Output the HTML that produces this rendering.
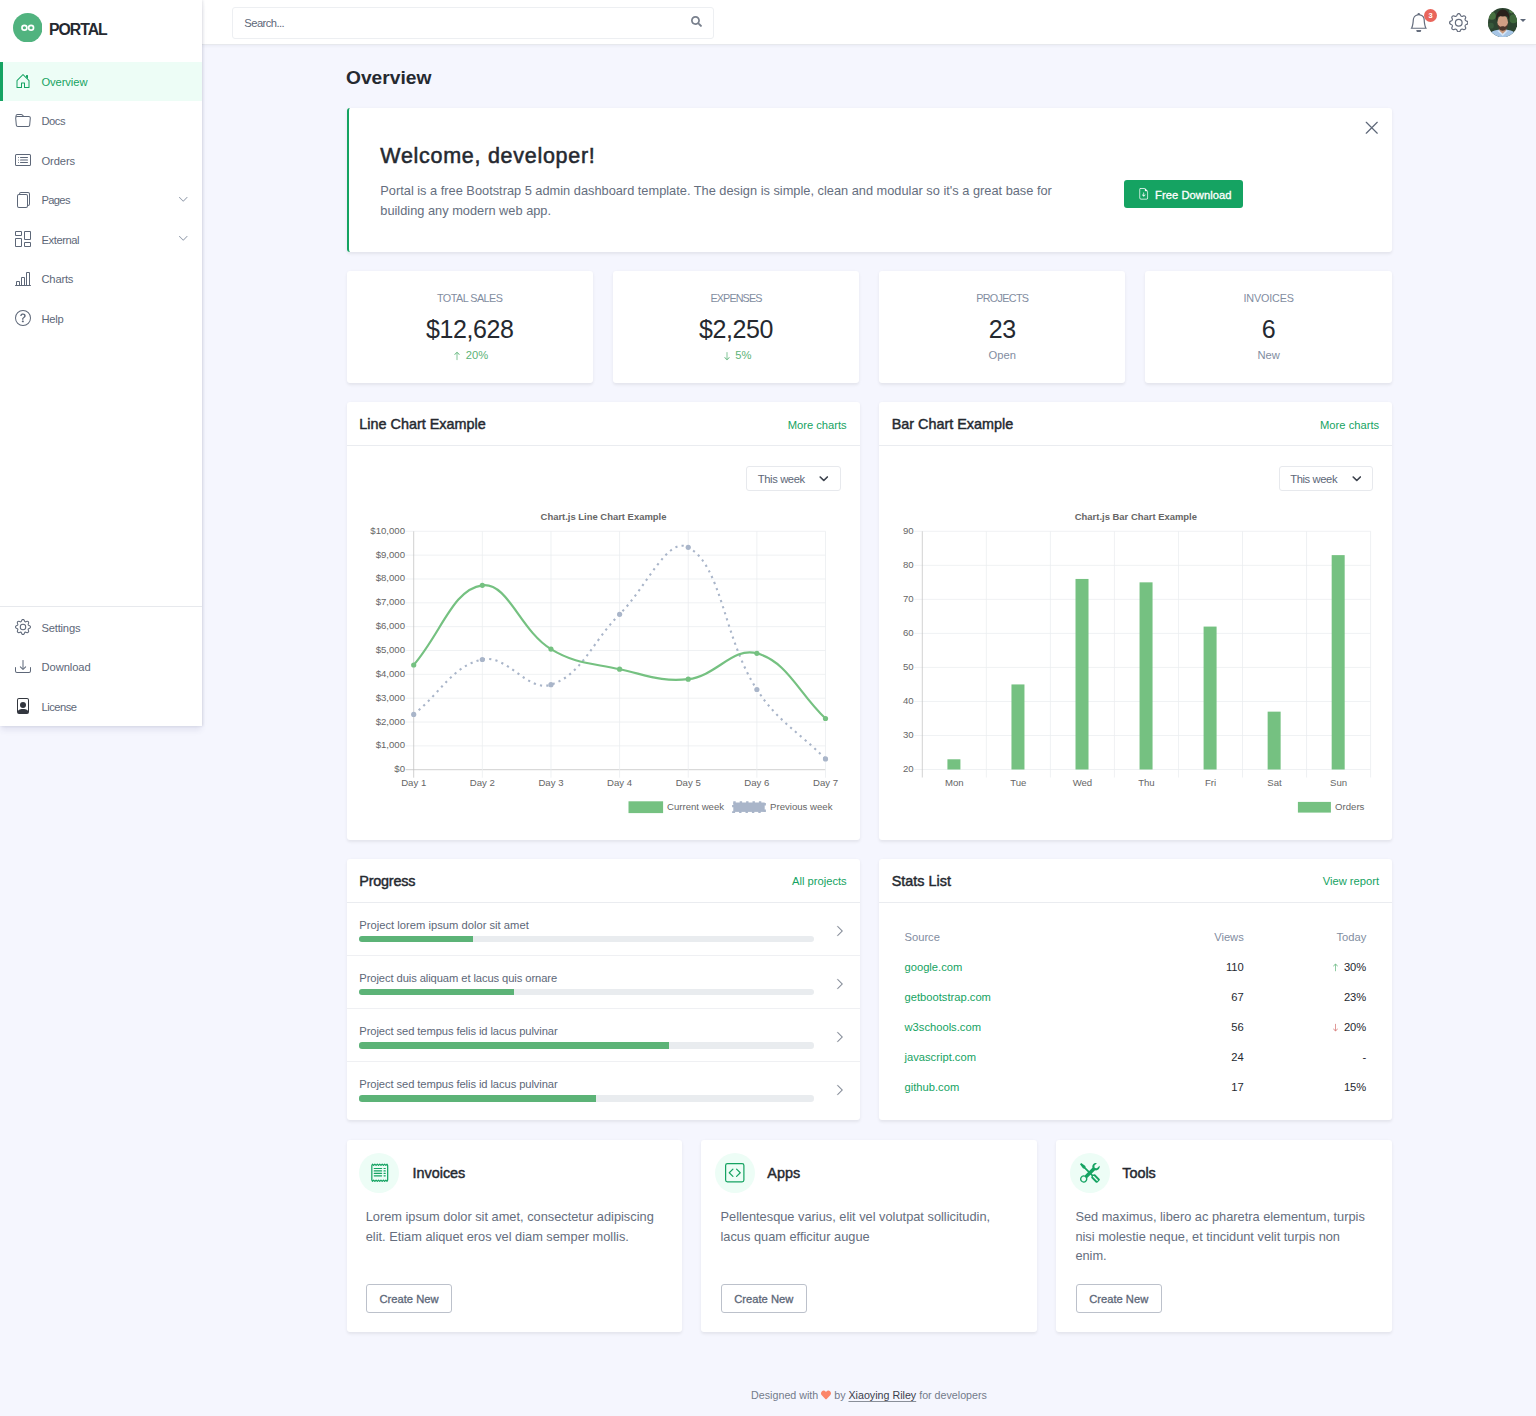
<!DOCTYPE html>
<html lang="en">
<head>
<meta charset="utf-8">
<title>Portal - Bootstrap 5 Admin Dashboard Template For Developers</title>
<meta name="viewport" content="width=device-width, initial-scale=1">
<style>
*{box-sizing:border-box;margin:0;padding:0}
html,body{width:1536px;height:1416px;overflow:hidden}
body{background:#f5f6fe;font-family:"Liberation Sans",sans-serif;color:#5d6778;font-size:11.200px;position:relative}
a{text-decoration:none;color:#15a362}
.bi{display:inline-block;vertical-align:middle;flex:none}
.sidebar{position:absolute;left:0;top:0;width:202px;height:726px;background:#fff;box-shadow:1px 0 2.500px rgba(40,50,80,.13),0 5px 6px -1px rgba(60,60,120,.10);z-index:3}
.logo{position:absolute;left:12.800px;top:12.800px;height:29.500px;display:flex;align-items:center}
.logo-ico{width:29.500px;height:29.500px}
.logo-text{margin-left:6.700px;font-size:15.800px;font-weight:bold;color:#252930;letter-spacing:-1px;position:relative;top:2.300px}
.nav-link{position:absolute;left:0;width:202px;height:39px;display:flex;align-items:center;color:#5d6778;border-left:3px solid transparent;padding-left:12.100px;font-size:11.200px}
.nav-link.active{background:#edfdf6;color:#15a362;border-left-color:#15a362}
.nav-ico{margin-right:10.400px}
.nav-text{position:relative;top:.5px}
.nav-chev{position:absolute;right:13.200px;top:13.800px;color:#828d9f}
.side-div{position:absolute;left:0;top:606px;width:202px;height:1px;background:#e7e9ed}
.topbar{position:absolute;left:202px;top:0;width:1334px;height:44.500px;background:#fff;border-bottom:1px solid #e7e9ed;box-shadow:0 1px 3px rgba(40,50,80,.06);z-index:2}
.search{position:absolute;left:29.500px;top:7px;width:482.800px;height:31.500px;border:1px solid #edeff2;border-radius:3px;background:#fff}
.search-ph{position:absolute;left:11.800px;top:9px;font-size:11.200px;letter-spacing:-.55px;color:#5d6778;line-height:13px}
.search-ico{position:absolute;right:11.300px;top:8.200px;width:11px;height:11px;color:#79808d}
.hd-bell{position:absolute;left:1207.200px;top:12.700px;color:#666e7e}
.hd-gear{position:absolute;left:1246.700px;top:12.700px;color:#666e7e}
.badge{position:absolute;left:1222px;top:9.200px;width:13px;height:13px;border-radius:50%;background:#e9655b;color:#fff;font-size:7.500px;font-weight:bold;line-height:13px;text-align:center}
.avatar{position:absolute;left:1285.700px;top:7.800px;width:29.400px;height:29.400px}
.caret{position:absolute;left:1318px;top:19.200px;border:3px solid transparent;border-top:3px solid #5d6778;border-bottom:0}
main{position:absolute;left:0;top:0;width:1536px;height:1416px}
.page-title{position:absolute;left:346px;top:66.700px;font-size:19.200px;line-height:22px;font-weight:bold;color:#252930}
.card{position:absolute;background:#fff;border-radius:3px;box-shadow:0 1.600px 3.200px rgba(0,0,0,.075)}
.welcome{left:346.500px;top:108px;width:1045.300px;height:143.500px;border-left:2.700px solid #15a362;border-radius:3px}
.w-title{position:absolute;left:31.800px;top:35.600px;font-size:21.500px;line-height:25px;font-weight:normal;-webkit-text-stroke:.52px #252930;letter-spacing:.72px;color:#252930}
.w-text{position:absolute;left:31.800px;top:73.100px;font-size:12.800px;line-height:19.700px;color:#656e7e;white-space:nowrap}
.btn-dl{position:absolute;left:775.600px;top:72.400px;width:119.400px;height:27.400px;background:#15a362;border-radius:3px;color:#fff;font-size:11.200px;-webkit-text-stroke:.3px #fff;letter-spacing:.05px;display:flex;align-items:center;padding-left:13.500px}
.dl-ico{margin-right:6px}
.close-x{position:absolute;left:1016px;top:13px;width:13.500px;height:13.500px;color:#5d6778}
.stat{top:271px;width:246.400px;height:111.500px;text-align:center}
.stat-t{position:absolute;left:0;width:100%;top:20.500px;font-size:10.800px;letter-spacing:-.47px;line-height:13px;font-weight:normal;color:#828d9f}
.stat-v{position:absolute;left:0;width:100%;top:43px;font-size:25px;letter-spacing:-.4px;line-height:30px;color:#252930}
.stat-m{position:absolute;left:0;width:100%;top:78px;font-size:11.200px;line-height:13px;color:#828d9f}
.stat-m.up{color:#5cb377}
.meta-ico{margin-right:2.500px;position:relative;top:-.3px}
.chartcard{top:402px;width:513px;height:437.500px}
.card-h{position:absolute;left:0;top:0;width:100%;height:43.500px;border-bottom:1px solid #eaecf0}
.card-title{position:absolute;left:12.800px;top:14.250px;font-size:14.400px;line-height:17px;font-weight:normal;-webkit-text-stroke:.45px #252930;color:#252930}
.card-link{position:absolute;right:12.800px;top:16.500px;font-size:11.200px;line-height:13px;color:#15a362}
.select{position:absolute;left:399.800px;top:64.200px;width:94.300px;height:24.700px;border:1px solid #e7e9ed;border-radius:3px;color:#5d6778}
.select span{position:absolute;left:10.500px;top:5.500px;font-size:11.200px;letter-spacing:-.38px;line-height:13px}
.sel-chev{position:absolute;left:72px;top:7.300px;color:#3f4550}
svg.chart{position:absolute;z-index:1}
.midcard{top:859px;width:513px;height:261px}
.prow{position:absolute;left:0;width:100%;height:53.300px;border-bottom:1px solid #eff0f3}
.prow:last-child{border-bottom:0}
.ptext{position:absolute;left:12.800px;top:16.100px;font-size:11.200px;line-height:13px;color:#5d6778}
.pbar{position:absolute;left:12.800px;top:33.100px;width:454.800px;height:6.500px;border-radius:3.200px;background:#e9ecef;overflow:hidden}
.pbar div{height:100%;background:#5cb377}
.prow-chev{position:absolute;left:487.700px;top:22px;color:#7b828f;stroke:currentColor;stroke-width:.4}
.trow{position:absolute;left:25.600px;width:461.800px;height:14px;font-size:11.200px;line-height:14px;color:#252930}
.trow.th{color:#828d9f}
.trow .c1{position:absolute;left:0}
.trow .c2{position:absolute;right:122.500px}
.trow .c3{position:absolute;right:0}
.t-ico{position:relative;top:-.5px}
.t-ico.up{color:#5cb377}.t-ico.dn{color:#d26d69}
.botcard{top:1140px;width:335.600px;height:191.500px}
.ic-holder{position:absolute;left:12.800px;top:12.800px;width:40px;height:40px;border-radius:50%;background:#edfdf6;color:#15a362;display:flex;align-items:center;justify-content:center}
.bot-title{position:absolute;left:66px;top:25px;font-size:14.400px;line-height:17px;font-weight:normal;-webkit-text-stroke:.45px #252930;color:#252930}
.bot-text{position:absolute;left:19.200px;top:67px;font-size:12.800px;line-height:19.500px;color:#656e7e;white-space:nowrap}
.btn-sec{position:absolute;left:19.500px;top:143.500px;width:86px;height:29px;border:1px solid #bcc1cb;border-radius:3px;color:#5d6778;font-size:11.200px;-webkit-text-stroke:.3px #5d6778;line-height:28.600px;text-align:center}
.foot{position:absolute;left:0;width:1738px;top:1388px;text-align:center;font-size:10.700px;line-height:14px;color:#737b8b}
.foot a{color:#3b404b;text-decoration:underline;text-decoration-thickness:.8px;text-decoration-color:#8a8f99;text-underline-offset:1.500px}
.heart{width:10px;height:10px;vertical-align:-1px}
.lic{color:#33373f}
.midcard .card-link{top:15.800px}
.midcard .card-title{top:14px}
.btn-dl span{position:relative;top:.5px}
</style>
</head>
<body>
<aside class="sidebar"><div class="logo"><svg class="logo-ico" viewBox="0 0 30 30"><circle cx="15" cy="15" r="15" fill="#51b37f"/><circle cx="11.600" cy="15" r="2.500" fill="none" stroke="#fff" stroke-width="1.700"/><circle cx="18.400" cy="15" r="2.500" fill="none" stroke="#fff" stroke-width="1.700"/></svg><span class="logo-text">PORTAL</span></div><a class="nav-link active" style="top:61.5px"><svg class="bi nav-ico" style="width:16px;height:16px;" viewBox="0 0 16 16" fill="currentColor"><path fill-rule="evenodd" d="M7.646 1.146a.5.5 0 0 1 .708 0l6 6a.5.5 0 0 1 .146.354v7a.5.5 0 0 1-.5.5H9.500a.5.5 0 0 1-.5-.5v-4H7v4a.5.5 0 0 1-.5.5H2a.5.5 0 0 1-.5-.5v-7a.5.5 0 0 1 .146-.354l6-6zM2.500 7.707V14H6v-4a.5.5 0 0 1 .5-.5h3a.5.5 0 0 1 .5.5v4h3.500V7.707L8 2.207l-5.500 5.500z"/><path fill-rule="evenodd" d="M13 2.500V6l-2-2V2.500a.5.5 0 0 1 .5-.5h1a.5.5 0 0 1 .5.5z"/></svg><span class="nav-text" style="letter-spacing:-0.09px">Overview</span></a><a class="nav-link" style="top:101px"><svg class="bi nav-ico" style="width:16px;height:16px;" viewBox="0 0 16 16" fill="currentColor"><path d="M9.828 4a3 3 0 0 1-2.120-.879l-.830-.828A1 1 0 0 0 6.173 2H2.500a1 1 0 0 0-1 .981L1.546 4h-1L.5 3a2 2 0 0 1 2-2h3.672a2 2 0 0 1 1.414.586l.828.828A2 2 0 0 0 9.828 3v1z"/><path fill-rule="evenodd" d="M13.810 4H2.190a1 1 0 0 0-.996 1.090l.637 7a1 1 0 0 0 .995.910h10.348a1 1 0 0 0 .995-.910l.637-7A1 1 0 0 0 13.810 4zM2.190 3A2 2 0 0 0 .198 5.181l.637 7A2 2 0 0 0 2.826 14h10.348a2 2 0 0 0 1.991-1.819l.637-7A2 2 0 0 0 13.810 3H2.190z"/></svg><span class="nav-text" style="letter-spacing:-0.47px">Docs</span></a><a class="nav-link" style="top:140.5px"><svg class="bi nav-ico" style="width:16px;height:16px;" viewBox="0 0 16 16" fill="currentColor"><path fill-rule="evenodd" d="M14.500 3h-13a.5.5 0 0 0-.5.5v9a.5.5 0 0 0 .5.5h13a.5.5 0 0 0 .5-.5v-9a.5.5 0 0 0-.5-.5zm-13-1A1.500 1.500 0 0 0 0 3.500v9A1.500 1.500 0 0 0 1.500 14h13a1.500 1.500 0 0 0 1.500-1.500v-9A1.500 1.500 0 0 0 14.500 2h-13z"/><path fill-rule="evenodd" d="M5 8a.5.5 0 0 1 .5-.5h7a.5.5 0 0 1 0 1h-7A.5.5 0 0 1 5 8zm0-2.500a.5.5 0 0 1 .5-.5h7a.5.5 0 0 1 0 1h-7a.5.5 0 0 1-.5-.5zm0 5a.5.5 0 0 1 .5-.5h7a.5.5 0 0 1 0 1h-7a.5.5 0 0 1-.5-.5z"/><circle cx="3.5" cy="5.5" r=".5"/><circle cx="3.5" cy="8" r=".5"/><circle cx="3.5" cy="10.5" r=".5"/></svg><span class="nav-text" style="letter-spacing:-0.12px">Orders</span></a><a class="nav-link" style="top:180px"><svg class="bi nav-ico" style="width:16px;height:16px;" viewBox="0 0 16 16" fill="currentColor"><path fill-rule="evenodd" d="M4 2h7a2 2 0 0 1 2 2v10a2 2 0 0 1-2 2H4a2 2 0 0 1-2-2V4a2 2 0 0 1 2-2zm0 1a1 1 0 0 0-1 1v10a1 1 0 0 0 1 1h7a1 1 0 0 0 1-1V4a1 1 0 0 0-1-1H4z"/><path d="M6 0h7a2 2 0 0 1 2 2v10a2 2 0 0 1-2 2v-1a1 1 0 0 0 1-1V2a1 1 0 0 0-1-1H6a1 1 0 0 0-1 1H4a2 2 0 0 1 2-2z"/></svg><span class="nav-text" style="letter-spacing:-0.68px">Pages</span><svg class="bi nav-chev" style="width:10.5px;height:10.5px;" viewBox="0 0 16 16" fill="currentColor"><path fill-rule="evenodd" d="M1.646 4.646a.5.5 0 0 1 .708 0L8 10.293l5.646-5.647a.5.5 0 0 1 .708.708l-6 6a.5.5 0 0 1-.708 0l-6-6a.5.5 0 0 1 0-.708z"/></svg></a><a class="nav-link" style="top:219.5px"><svg class="bi nav-ico" style="width:16px;height:16px;" viewBox="0 0 16 16" fill="currentColor"><path fill-rule="evenodd" d="M6 1H1v3h5V1zM1 0a1 1 0 0 0-1 1v3a1 1 0 0 0 1 1h5a1 1 0 0 0 1-1V1a1 1 0 0 0-1-1H1zm14 12h-5v3h5v-3zm-5-1a1 1 0 0 0-1 1v3a1 1 0 0 0 1 1h5a1 1 0 0 0 1-1v-3a1 1 0 0 0-1-1h-5zM6 8H1v7h5V8zM1 7a1 1 0 0 0-1 1v7a1 1 0 0 0 1 1h5a1 1 0 0 0 1-1V8a1 1 0 0 0-1-1H1zm14-6h-5v7h5V1zm-5-1a1 1 0 0 0-1 1v7a1 1 0 0 0 1 1h5a1 1 0 0 0 1-1V1a1 1 0 0 0-1-1h-5z"/></svg><span class="nav-text" style="letter-spacing:-0.42px">External</span><svg class="bi nav-chev" style="width:10.5px;height:10.5px;" viewBox="0 0 16 16" fill="currentColor"><path fill-rule="evenodd" d="M1.646 4.646a.5.5 0 0 1 .708 0L8 10.293l5.646-5.647a.5.5 0 0 1 .708.708l-6 6a.5.5 0 0 1-.708 0l-6-6a.5.5 0 0 1 0-.708z"/></svg></a><a class="nav-link" style="top:259px"><svg class="bi nav-ico" style="width:16px;height:16px;" viewBox="0 0 16 16" fill="currentColor"><path fill-rule="evenodd" d="M4 11H2v3h2v-3zm5-4H7v7h2V7zm5-5h-2v12h2V2zm-2-1a1 1 0 0 0-1 1v12a1 1 0 0 0 1 1h2a1 1 0 0 0 1-1V2a1 1 0 0 0-1-1h-2zM6 7a1 1 0 0 1 1-1h2a1 1 0 0 1 1 1v7a1 1 0 0 1-1 1H7a1 1 0 0 1-1-1V7zm-5 4a1 1 0 0 1 1-1h2a1 1 0 0 1 1 1v3a1 1 0 0 1-1 1H2a1 1 0 0 1-1-1v-3z"/><path fill-rule="evenodd" d="M0 14.500a.5.5 0 0 1 .5-.5h15a.5.5 0 0 1 0 1H.5a.5.5 0 0 1-.5-.5z"/></svg><span class="nav-text" style="letter-spacing:-0.2px">Charts</span></a><a class="nav-link" style="top:298.5px"><svg class="bi nav-ico" style="width:16px;height:16px;" viewBox="0 0 16 16" fill="currentColor"><path fill-rule="evenodd" d="M8 15A7 7 0 1 0 8 1a7 7 0 0 0 0 14zm0 1A8 8 0 1 0 8 0a8 8 0 0 0 0 16z"/><path d="M5.255 5.786a.237.237 0 0 0 .241.247h.825c.138 0 .248-.113.266-.250.090-.656.540-1.134 1.342-1.134.686 0 1.314.343 1.314 1.168 0 .635-.374.927-.965 1.371-.673.489-1.206 1.060-1.168 1.987l.003.217a.25.25 0 0 0 .25.246h.811a.25.25 0 0 0 .25-.250v-.105c0-.718.273-.927 1.010-1.486.609-.463 1.244-.977 1.244-2.056 0-1.511-1.276-2.241-2.673-2.241-1.267 0-2.655.590-2.750 2.286zm1.557 5.763c0 .533.425.927 1.010.927.609 0 1.028-.394 1.028-.927 0-.552-.420-.940-1.029-.940-.584 0-1.009.388-1.009.940z"/></svg><span class="nav-text" style="letter-spacing:-0.27px">Help</span></a><div class="side-div"></div><a class="nav-link" style="top:607.5px"><svg class="bi nav-ico" style="width:16px;height:16px;" viewBox="0 0 16 16" fill="currentColor"><path fill-rule="evenodd" d="M8.837 1.626c-.246-.835-1.428-.835-1.674 0l-.094.319A1.873 1.873 0 0 1 4.377 3.060l-.292-.160c-.764-.415-1.600.420-1.184 1.185l.159.292a1.873 1.873 0 0 1-1.115 2.692l-.319.094c-.835.246-.835 1.428 0 1.674l.319.094a1.873 1.873 0 0 1 1.115 2.693l-.160.291c-.415.764.420 1.600 1.185 1.184l.292-.159a1.873 1.873 0 0 1 2.692 1.116l.094.318c.246.835 1.428.835 1.674 0l.094-.319a1.873 1.873 0 0 1 2.693-1.115l.291.160c.764.415 1.600-.420 1.184-1.185l-.159-.291a1.873 1.873 0 0 1 1.116-2.693l.318-.094c.835-.246.835-1.428 0-1.674l-.319-.094a1.873 1.873 0 0 1-1.115-2.692l.160-.292c.415-.764-.420-1.600-1.185-1.184l-.291.159A1.873 1.873 0 0 1 8.930 1.945l-.094-.319zm-2.633-.283c.527-1.790 3.065-1.790 3.592 0l.094.319a.873.873 0 0 0 1.255.520l.292-.160c1.640-.892 3.434.901 2.540 2.541l-.159.292a.873.873 0 0 0 .520 1.255l.319.094c1.790.527 1.790 3.065 0 3.592l-.319.094a.873.873 0 0 0-.520 1.255l.160.292c.893 1.640-.902 3.434-2.541 2.540l-.292-.159a.873.873 0 0 0-1.255.520l-.094.319c-.527 1.790-3.065 1.790-3.592 0l-.094-.319a.873.873 0 0 0-1.255-.520l-.292.160c-1.640.893-3.433-.902-2.540-2.541l.159-.292a.873.873 0 0 0-.520-1.255l-.319-.094c-1.790-.527-1.790-3.065 0-3.592l.319-.094a.873.873 0 0 0 .520-1.255l-.160-.292c-.892-1.640.902-3.433 2.541-2.540l.292.159a.873.873 0 0 0 1.255-.520l.094-.319z"/><path fill-rule="evenodd" d="M8 5.754a2.246 2.246 0 1 0 0 4.492 2.246 2.246 0 0 0 0-4.492zM4.754 8a3.246 3.246 0 1 1 6.492 0 3.246 3.246 0 0 1-6.492 0z"/></svg><span class="nav-text" style="letter-spacing:-0.2px">Settings</span></a><a class="nav-link" style="top:647px"><svg class="bi nav-ico" style="width:16px;height:16px;" viewBox="0 0 16 16" fill="currentColor"><path fill-rule="evenodd" d="M.5 8a.5.5 0 0 1 .5.5V12a1 1 0 0 0 1 1h12a1 1 0 0 0 1-1V8.500a.5.5 0 0 1 1 0V12a2 2 0 0 1-2 2H2a2 2 0 0 1-2-2V8.500A.5.5 0 0 1 .5 8z"/><path fill-rule="evenodd" d="M5 7.500a.5.5 0 0 1 .707 0L8 9.793 10.293 7.500a.5.5 0 1 1 .707.707l-2.646 2.647a.5.5 0 0 1-.708 0L5 8.207A.5.5 0 0 1 5 7.500z"/><path fill-rule="evenodd" d="M8 1a.5.5 0 0 1 .5.5v8a.5.5 0 0 1-1 0v-8A.5.5 0 0 1 8 1z"/></svg><span class="nav-text" style="letter-spacing:-0.07px">Download</span></a><a class="nav-link" style="top:686.5px"><svg class="bi nav-ico lic" style="width:16px;height:16px;" viewBox="0 0 16 16" fill="currentColor"><path fill-rule="evenodd" d="M12 1H4a1 1 0 0 0-1 1v10.755S4 11 8 11s5 1.755 5 1.755V2a1 1 0 0 0-1-1zM4 0a2 2 0 0 0-2 2v12a2 2 0 0 0 2 2h8a2 2 0 0 0 2-2V2a2 2 0 0 0-2-2H4z"/><path fill-rule="evenodd" d="M8 10a3 3 0 1 0 0-6 3 3 0 0 0 0 6z"/></svg><span class="nav-text" style="letter-spacing:-0.5px">License</span></a></aside>
<header class="topbar"><div class="search"><span class="search-ph">Search...</span><svg class="search-ico" viewBox="0 0 512 512"><path fill="currentColor" d="M505 442.700L405.300 343c-4.500-4.500-10.600-7-17-7H372c27.600-35.300 44-79.700 44-128C416 93.100 322.900 0 208 0S0 93.100 0 208s93.100 208 208 208c48.300 0 92.700-16.400 128-44v16.300c0 6.400 2.500 12.500 7 17l99.700 99.700c9.400 9.400 24.600 9.400 33.900 0l28.300-28.300c9.400-9.400 9.400-24.600.1-34zM208 336c-70.700 0-128-57.200-128-128 0-70.700 57.200-128 128-128 70.700 0 128 57.200 128 128 0 70.700-57.200 128-128 128z"/></svg></div><svg class="bi hd-bell" style="width:19.5px;height:19.5px;" viewBox="0 0 16 16" fill="currentColor"><path d="M8 16a2 2 0 0 0 2-2H6a2 2 0 0 0 2 2z"/><path fill-rule="evenodd" d="M8 1.918l-.797.161A4.002 4.002 0 0 0 4 6c0 .628-.134 2.197-.459 3.742-.160.767-.376 1.566-.663 2.258h10.244c-.287-.692-.502-1.490-.663-2.258C12.134 8.197 12 6.628 12 6a4.002 4.002 0 0 0-3.203-3.920L8 1.917zM14.220 12c.223.447.481.801.780 1H1c.299-.199.557-.553.780-1C2.680 10.200 3 6.880 3 6c0-2.420 1.720-4.440 4.005-4.901a1 1 0 1 1 1.990 0A5.002 5.002 0 0 1 13 6c0 .880.320 4.200 1.220 6z"/></svg><span class="badge">3</span><svg class="bi hd-gear" style="width:19.5px;height:19.5px;" viewBox="0 0 16 16" fill="currentColor"><path fill-rule="evenodd" d="M8.837 1.626c-.246-.835-1.428-.835-1.674 0l-.094.319A1.873 1.873 0 0 1 4.377 3.060l-.292-.160c-.764-.415-1.600.420-1.184 1.185l.159.292a1.873 1.873 0 0 1-1.115 2.692l-.319.094c-.835.246-.835 1.428 0 1.674l.319.094a1.873 1.873 0 0 1 1.115 2.693l-.160.291c-.415.764.420 1.600 1.185 1.184l.292-.159a1.873 1.873 0 0 1 2.692 1.116l.094.318c.246.835 1.428.835 1.674 0l.094-.319a1.873 1.873 0 0 1 2.693-1.115l.291.160c.764.415 1.600-.420 1.184-1.185l-.159-.291a1.873 1.873 0 0 1 1.116-2.693l.318-.094c.835-.246.835-1.428 0-1.674l-.319-.094a1.873 1.873 0 0 1-1.115-2.692l.160-.292c.415-.764-.420-1.600-1.185-1.184l-.291.159A1.873 1.873 0 0 1 8.930 1.945l-.094-.319zm-2.633-.283c.527-1.790 3.065-1.790 3.592 0l.094.319a.873.873 0 0 0 1.255.520l.292-.160c1.640-.892 3.434.901 2.540 2.541l-.159.292a.873.873 0 0 0 .520 1.255l.319.094c1.790.527 1.790 3.065 0 3.592l-.319.094a.873.873 0 0 0-.520 1.255l.160.292c.893 1.640-.902 3.434-2.541 2.540l-.292-.159a.873.873 0 0 0-1.255.520l-.094.319c-.527 1.790-3.065 1.790-3.592 0l-.094-.319a.873.873 0 0 0-1.255-.520l-.292.160c-1.640.893-3.433-.902-2.540-2.541l.159-.292a.873.873 0 0 0-.520-1.255l-.319-.094c-1.790-.527-1.790-3.065 0-3.592l.319-.094a.873.873 0 0 0 .520-1.255l-.160-.292c-.892-1.640.902-3.433 2.541-2.540l.292.159a.873.873 0 0 0 1.255-.520l.094-.319z"/><path fill-rule="evenodd" d="M8 5.754a2.246 2.246 0 1 0 0 4.492 2.246 2.246 0 0 0 0-4.492zM4.754 8a3.246 3.246 0 1 1 6.492 0 3.246 3.246 0 0 1-6.492 0z"/></svg><svg class="avatar" viewBox="0 0 30 30"><defs><clipPath id="avc"><circle cx="15" cy="15" r="15"/></clipPath></defs><g clip-path="url(#avc)"><rect width="30" height="30" fill="#2c4430"/><circle cx="4" cy="8" r="4" fill="#46703f"/><circle cx="26" cy="11" r="4.500" fill="#3f693c"/><circle cx="24" cy="3" r="2.500" fill="#4f7a45"/><circle cx="3" cy="18" r="3" fill="#36583a"/><path d="M1 30c0-5.500 5-8 14-8s14 2.500 14 8z" fill="#a6c5e6"/><path d="M11.500 20h7v4l-3.500 2.800-3.500-2.800z" fill="#c4957a"/><path d="M11.200 22.600l3.800 3.600 3.800-3.600 1.500.8-5.300 5.200-5.300-5.200z" fill="#d4e3f3"/><ellipse cx="15" cy="14.500" rx="5.400" ry="7.100" fill="#cf9f84"/><path d="M9.600 15.500c.2 5 2.400 7.600 5.400 7.600s5.200-2.600 5.400-7.600c-.9 2.300-2.400 3.400-3.500 3.600-.9-.5-2.900-.5-3.800 0-1.100-.2-2.600-1.300-3.500-3.600z" fill="#4b362c"/><path d="M8.600 13.800c-1.400-6.500 1.700-12.300 6.700-12.300 4.600 0 7.900 5.300 6.200 12.300-.3-2.800-1-4.800-2.300-5.900-2.200.9-5.900.9-8 .1-1.400 1-2.200 3-2.600 5.800z" fill="#2a201b"/></g></svg><span class="caret"></span></header>
<main>
<h1 class="page-title">Overview</h1><section class="card welcome"><h2 class="w-title">Welcome, developer!</h2><p class="w-text">Portal is a free Bootstrap 5 admin dashboard template. The design is simple, clean and modular so it's a great base for<br>building any modern web app.</p><a class="btn-dl"><svg class="bi dl-ico" style="width:11.5px;height:11.5px;" viewBox="0 0 16 16" fill="currentColor"><path d="M4 0h5.500v1H4a1 1 0 0 0-1 1v12a1 1 0 0 0 1 1h8a1 1 0 0 0 1-1V4.500h1V14a2 2 0 0 1-2 2H4a2 2 0 0 1-2-2V2a2 2 0 0 1 2-2z"/><path d="M9.500 3V0L14 4.500h-3A1.500 1.500 0 0 1 9.500 3z"/><path fill-rule="evenodd" d="M8 6a.5.5 0 0 1 .5.5v3.793l1.146-1.147a.5.5 0 0 1 .708.708l-2 2a.5.5 0 0 1-.708 0l-2-2a.5.5 0 1 1 .708-.708L7.500 10.293V6.500A.5.5 0 0 1 8 6z"/></svg><span>Free Download</span></a><svg class="close-x" viewBox="0 0 16 16"><path d="M1.500 1.500l13 13M14.500 1.500l-13 13" stroke="currentColor" stroke-width="1.400" stroke-linecap="round" fill="none"/></svg></section><section class="card stat" style="left:346.5px"><h4 class="stat-t" style="letter-spacing:-0.52px">TOTAL SALES</h4><div class="stat-v">$12,628</div><div class="stat-m up"><svg class="bi meta-ico" style="width:12px;height:12px;" viewBox="0 0 16 16" fill="currentColor"><path fill-rule="evenodd" d="M8 3.500a.5.5 0 0 1 .5.5v9a.5.5 0 0 1-1 0V4a.5.5 0 0 1 .5-.5z"/><path fill-rule="evenodd" d="M7.646 2.646a.5.5 0 0 1 .708 0l3 3a.5.5 0 0 1-.708.708L8 3.707 5.354 6.354a.5.5 0 1 1-.708-.708l3-3z"/></svg><span>20%</span></div></section><section class="card stat" style="left:612.8px"><h4 class="stat-t" style="letter-spacing:-0.9px">EXPENSES</h4><div class="stat-v">$2,250</div><div class="stat-m up"><svg class="bi meta-ico" style="width:12px;height:12px;" viewBox="0 0 16 16" fill="currentColor"><path fill-rule="evenodd" d="M4.646 9.646a.5.5 0 0 1 .708 0L8 12.293l2.646-2.647a.5.5 0 0 1 .708.708l-3 3a.5.5 0 0 1-.708 0l-3-3a.5.5 0 0 1 0-.708z"/><path fill-rule="evenodd" d="M8 2.500a.5.5 0 0 1 .5.5v9a.5.5 0 0 1-1 0V3a.5.5 0 0 1 .5-.5z"/></svg><span>5%</span></div></section><section class="card stat" style="left:879.1px"><h4 class="stat-t" style="letter-spacing:-0.69px">PROJECTS</h4><div class="stat-v">23</div><div class="stat-m ">Open</div></section><section class="card stat" style="left:1145.4px"><h4 class="stat-t" style="letter-spacing:-0.16px">INVOICES</h4><div class="stat-v">6</div><div class="stat-m ">New</div></section><section class="card chartcard" style="left:346.5px"><div class="card-h"><h4 class="card-title">Line Chart Example</h4><a class="card-link">More charts</a></div><div class="select"><span>This week</span><svg class="bi sel-chev" style="width:9.5px;height:9.5px;stroke:currentColor;stroke-width:1.700" viewBox="0 0 16 16" fill="currentColor"><path fill-rule="evenodd" d="M1.646 4.646a.5.5 0 0 1 .708 0L8 10.293l5.646-5.647a.5.5 0 0 1 .708.708l-6 6a.5.5 0 0 1-.708 0l-6-6a.5.5 0 0 1 0-.708z"/></svg></div></section><section class="card chartcard" style="left:878.9px"><div class="card-h"><h4 class="card-title">Bar Chart Example</h4><a class="card-link">More charts</a></div><div class="select"><span>This week</span><svg class="bi sel-chev" style="width:9.5px;height:9.5px;stroke:currentColor;stroke-width:1.700" viewBox="0 0 16 16" fill="currentColor"><path fill-rule="evenodd" d="M1.646 4.646a.5.5 0 0 1 .708 0L8 10.293l5.646-5.647a.5.5 0 0 1 .708.708l-6 6a.5.5 0 0 1-.708 0l-6-6a.5.5 0 0 1 0-.708z"/></svg></div></section><svg class="chart" style="left:346.5px;top:447px;width:513px;height:392px" viewBox="346.5 447 513 392"><line x1="405.20" y1="531.30" x2="825.00" y2="531.30" stroke="#eaecef" stroke-width="0.750"/><line x1="405.20" y1="555.14" x2="825.00" y2="555.14" stroke="#eaecef" stroke-width="0.750"/><line x1="405.20" y1="578.98" x2="825.00" y2="578.98" stroke="#eaecef" stroke-width="0.750"/><line x1="405.20" y1="602.82" x2="825.00" y2="602.82" stroke="#eaecef" stroke-width="0.750"/><line x1="405.20" y1="626.66" x2="825.00" y2="626.66" stroke="#eaecef" stroke-width="0.750"/><line x1="405.20" y1="650.50" x2="825.00" y2="650.50" stroke="#eaecef" stroke-width="0.750"/><line x1="405.20" y1="674.34" x2="825.00" y2="674.34" stroke="#eaecef" stroke-width="0.750"/><line x1="405.20" y1="698.18" x2="825.00" y2="698.18" stroke="#eaecef" stroke-width="0.750"/><line x1="405.20" y1="722.02" x2="825.00" y2="722.02" stroke="#eaecef" stroke-width="0.750"/><line x1="405.20" y1="745.86" x2="825.00" y2="745.86" stroke="#eaecef" stroke-width="0.750"/><line x1="405.20" y1="769.70" x2="825.00" y2="769.70" stroke="#c2c2c2" stroke-width="0.750"/><line x1="413.20" y1="531.30" x2="413.20" y2="777.70" stroke="#c2c2c2" stroke-width="0.750"/><line x1="481.83" y1="531.30" x2="481.83" y2="777.70" stroke="#eaecef" stroke-width="0.750"/><line x1="550.47" y1="531.30" x2="550.47" y2="777.70" stroke="#eaecef" stroke-width="0.750"/><line x1="619.10" y1="531.30" x2="619.10" y2="777.70" stroke="#eaecef" stroke-width="0.750"/><line x1="687.73" y1="531.30" x2="687.73" y2="777.70" stroke="#eaecef" stroke-width="0.750"/><line x1="756.37" y1="531.30" x2="756.37" y2="777.70" stroke="#eaecef" stroke-width="0.750"/><line x1="825.00" y1="531.30" x2="825.00" y2="777.70" stroke="#eaecef" stroke-width="0.750"/><g font-family="'Liberation Sans',sans-serif" font-size="9.600" fill="#666"><text x="404.50" y="533.80" text-anchor="end">$10,000</text><text x="404.50" y="557.64" text-anchor="end">$9,000</text><text x="404.50" y="581.48" text-anchor="end">$8,000</text><text x="404.50" y="605.32" text-anchor="end">$7,000</text><text x="404.50" y="629.16" text-anchor="end">$6,000</text><text x="404.50" y="653.00" text-anchor="end">$5,000</text><text x="404.50" y="676.84" text-anchor="end">$4,000</text><text x="404.50" y="700.68" text-anchor="end">$3,000</text><text x="404.50" y="724.52" text-anchor="end">$2,000</text><text x="404.50" y="748.36" text-anchor="end">$1,000</text><text x="404.50" y="772.20" text-anchor="end">$0</text><text x="413.20" y="786.10" text-anchor="middle">Day 1</text><text x="481.83" y="786.10" text-anchor="middle">Day 2</text><text x="550.47" y="786.10" text-anchor="middle">Day 3</text><text x="619.10" y="786.10" text-anchor="middle">Day 4</text><text x="687.73" y="786.10" text-anchor="middle">Day 5</text><text x="756.37" y="786.10" text-anchor="middle">Day 6</text><text x="825.00" y="786.10" text-anchor="middle">Day 7</text></g><text x="603" y="520.4" text-anchor="middle" font-family="'Liberation Sans',sans-serif" font-size="9.450" font-weight="bold" fill="#666">Chart.js Line Chart Example</text><path d="M413.20 714.40 C440.65 692.44 451.86 665.99 481.83 659.50 C506.77 654.11 527.05 692.41 550.47 684.70 C581.96 674.33 591.31 642.12 619.10 614.30 C646.21 587.16 666.98 535.93 687.73 547.30 C721.89 566.01 722.44 637.19 756.37 689.50 C777.34 721.83 797.55 731.14 825.00 758.90" fill="none" stroke="#a9b5c9" stroke-width="2.100" stroke-dasharray="2.200 4.200" stroke-linecap="butt"/><circle cx="413.20" cy="714.40" r="2.600" fill="#a9b5c9"/><circle cx="481.83" cy="659.50" r="2.600" fill="#a9b5c9"/><circle cx="550.47" cy="684.70" r="2.600" fill="#a9b5c9"/><circle cx="619.10" cy="614.30" r="2.600" fill="#a9b5c9"/><circle cx="687.73" cy="547.30" r="2.600" fill="#a9b5c9"/><circle cx="756.37" cy="689.50" r="2.600" fill="#a9b5c9"/><circle cx="825.00" cy="758.90" r="2.600" fill="#a9b5c9"/><path d="M413.20 665.00 C440.65 633.12 452.80 588.66 481.83 585.30 C507.70 582.30 519.33 630.07 550.47 649.10 C574.23 663.63 591.23 663.09 619.10 669.20 C646.13 675.13 661.05 682.29 687.73 679.20 C715.96 675.93 732.39 646.44 756.37 653.30 C787.30 662.16 797.55 692.42 825.00 718.50" fill="none" stroke="#75c181" stroke-width="2.200" stroke-linecap="round"/><circle cx="413.20" cy="665.00" r="2.600" fill="#75c181"/><circle cx="481.83" cy="585.30" r="2.600" fill="#75c181"/><circle cx="550.47" cy="649.10" r="2.600" fill="#75c181"/><circle cx="619.10" cy="669.20" r="2.600" fill="#75c181"/><circle cx="687.73" cy="679.20" r="2.600" fill="#75c181"/><circle cx="756.37" cy="653.30" r="2.600" fill="#75c181"/><circle cx="825.00" cy="718.50" r="2.600" fill="#75c181"/><rect x="628" y="801.3" width="34.6" height="11.8" fill="#75c181"/><rect x="732.800" y="802.500" width="31.400" height="9.400" fill="#a9b5c9" stroke="#a9b5c9" stroke-width="2.400" stroke-dasharray="2.400 4"/><g font-family="'Liberation Sans',sans-serif" font-size="9.600" fill="#666"><text x="666.5" y="810">Current week</text><text x="769.6" y="810">Previous week</text></g></svg><svg class="chart" style="left:879px;top:447px;width:513px;height:392px" viewBox="879 447 513 392"><line x1="914.30" y1="531.30" x2="1370.60" y2="531.30" stroke="#eaecef" stroke-width="0.750"/><line x1="914.30" y1="565.33" x2="1370.60" y2="565.33" stroke="#eaecef" stroke-width="0.750"/><line x1="914.30" y1="599.36" x2="1370.60" y2="599.36" stroke="#eaecef" stroke-width="0.750"/><line x1="914.30" y1="633.39" x2="1370.60" y2="633.39" stroke="#eaecef" stroke-width="0.750"/><line x1="914.30" y1="667.41" x2="1370.60" y2="667.41" stroke="#eaecef" stroke-width="0.750"/><line x1="914.30" y1="701.44" x2="1370.60" y2="701.44" stroke="#eaecef" stroke-width="0.750"/><line x1="914.30" y1="735.47" x2="1370.60" y2="735.47" stroke="#eaecef" stroke-width="0.750"/><line x1="914.30" y1="769.50" x2="1370.60" y2="769.50" stroke="#eaecef" stroke-width="0.750"/><line x1="922.30" y1="531.30" x2="922.30" y2="777.50" stroke="#c2c2c2" stroke-width="0.750"/><line x1="986.34" y1="531.30" x2="986.34" y2="777.50" stroke="#eaecef" stroke-width="0.750"/><line x1="1050.39" y1="531.30" x2="1050.39" y2="777.50" stroke="#eaecef" stroke-width="0.750"/><line x1="1114.43" y1="531.30" x2="1114.43" y2="777.50" stroke="#eaecef" stroke-width="0.750"/><line x1="1178.47" y1="531.30" x2="1178.47" y2="777.50" stroke="#eaecef" stroke-width="0.750"/><line x1="1242.51" y1="531.30" x2="1242.51" y2="777.50" stroke="#eaecef" stroke-width="0.750"/><line x1="1306.56" y1="531.30" x2="1306.56" y2="777.50" stroke="#eaecef" stroke-width="0.750"/><line x1="1370.60" y1="531.30" x2="1370.60" y2="777.50" stroke="#eaecef" stroke-width="0.750"/><g font-family="'Liberation Sans',sans-serif" font-size="9.600" fill="#666"><text x="913.60" y="533.80" text-anchor="end">90</text><text x="913.60" y="567.83" text-anchor="end">80</text><text x="913.60" y="601.86" text-anchor="end">70</text><text x="913.60" y="635.89" text-anchor="end">60</text><text x="913.60" y="669.91" text-anchor="end">50</text><text x="913.60" y="703.94" text-anchor="end">40</text><text x="913.60" y="737.97" text-anchor="end">30</text><text x="913.60" y="772.00" text-anchor="end">20</text><text x="954.32" y="786.10" text-anchor="middle">Mon</text><text x="1018.36" y="786.10" text-anchor="middle">Tue</text><text x="1082.41" y="786.10" text-anchor="middle">Wed</text><text x="1146.45" y="786.10" text-anchor="middle">Thu</text><text x="1210.49" y="786.10" text-anchor="middle">Fri</text><text x="1274.54" y="786.10" text-anchor="middle">Sat</text><text x="1338.58" y="786.10" text-anchor="middle">Sun</text></g><text x="1135.9" y="520.4" text-anchor="middle" font-family="'Liberation Sans',sans-serif" font-size="9.450" font-weight="bold" fill="#666">Chart.js Bar Chart Example</text><g fill="#75c181"><rect x="947.42" y="759.29" width="13" height="10.21"/><rect x="1011.46" y="684.43" width="13" height="85.07"/><rect x="1075.51" y="578.94" width="13" height="190.56"/><rect x="1139.55" y="582.34" width="13" height="187.16"/><rect x="1203.59" y="626.58" width="13" height="142.92"/><rect x="1267.64" y="711.65" width="13" height="57.85"/><rect x="1331.68" y="555.12" width="13" height="214.38"/></g><rect x="1297.900" y="801.900" width="33" height="10.700" fill="#75c181"/><text x="1335.1" y="810" font-family="'Liberation Sans',sans-serif" font-size="9.600" fill="#666">Orders</text></svg><section class="card midcard" style="left:346.5px"><div class="card-h"><h4 class="card-title" style="letter-spacing:-.22px">Progress</h4><a class="card-link">All projects</a></div><div class="prow" style="top:43.5px"><div class="ptext" style="letter-spacing:0.01px">Project lorem ipsum dolor sit amet</div><div class="pbar"><div style="width:25%"></div></div><svg class="bi prow-chev" style="width:12px;height:12px;" viewBox="0 0 16 16" fill="currentColor"><path fill-rule="evenodd" d="M4.646 1.646a.5.5 0 0 1 .708 0l6 6a.5.5 0 0 1 0 .708l-6 6a.5.5 0 0 1-.708-.708L10.293 8 4.646 2.354a.5.5 0 0 1 0-.708z"/></svg></div><div class="prow" style="top:96.8px"><div class="ptext" style="letter-spacing:-0.09px">Project duis aliquam et lacus quis ornare</div><div class="pbar"><div style="width:34%"></div></div><svg class="bi prow-chev" style="width:12px;height:12px;" viewBox="0 0 16 16" fill="currentColor"><path fill-rule="evenodd" d="M4.646 1.646a.5.5 0 0 1 .708 0l6 6a.5.5 0 0 1 0 .708l-6 6a.5.5 0 0 1-.708-.708L10.293 8 4.646 2.354a.5.5 0 0 1 0-.708z"/></svg></div><div class="prow" style="top:150.1px"><div class="ptext" style="letter-spacing:-0.09px">Project sed tempus felis id lacus pulvinar</div><div class="pbar"><div style="width:68%"></div></div><svg class="bi prow-chev" style="width:12px;height:12px;" viewBox="0 0 16 16" fill="currentColor"><path fill-rule="evenodd" d="M4.646 1.646a.5.5 0 0 1 .708 0l6 6a.5.5 0 0 1 0 .708l-6 6a.5.5 0 0 1-.708-.708L10.293 8 4.646 2.354a.5.5 0 0 1 0-.708z"/></svg></div><div class="prow" style="top:203.39999999999998px"><div class="ptext" style="letter-spacing:-0.09px">Project sed tempus felis id lacus pulvinar</div><div class="pbar"><div style="width:52%"></div></div><svg class="bi prow-chev" style="width:12px;height:12px;" viewBox="0 0 16 16" fill="currentColor"><path fill-rule="evenodd" d="M4.646 1.646a.5.5 0 0 1 .708 0l6 6a.5.5 0 0 1 0 .708l-6 6a.5.5 0 0 1-.708-.708L10.293 8 4.646 2.354a.5.5 0 0 1 0-.708z"/></svg></div></section><section class="card midcard" style="left:878.9px"><div class="card-h"><h4 class="card-title">Stats List</h4><a class="card-link">View report</a></div><div class="trow th" style="top:71.400px"><span class="c1">Source</span><span class="c2">Views</span><span class="c3">Today</span></div><div class="trow" style="top:101.1px"><a class="c1">google.com</a><span class="c2">110</span><span class="c3"><svg class="bi t-ico up" style="width:11px;height:11px;" viewBox="0 0 16 16" fill="currentColor"><path fill-rule="evenodd" d="M8 3.500a.5.5 0 0 1 .5.5v9a.5.5 0 0 1-1 0V4a.5.5 0 0 1 .5-.5z"/><path fill-rule="evenodd" d="M7.646 2.646a.5.5 0 0 1 .708 0l3 3a.5.5 0 0 1-.708.708L8 3.707 5.354 6.354a.5.5 0 1 1-.708-.708l3-3z"/></svg> 30%</span></div><div class="trow" style="top:131.0px"><a class="c1">getbootstrap.com</a><span class="c2">67</span><span class="c3">23%</span></div><div class="trow" style="top:160.89999999999998px"><a class="c1">w3schools.com</a><span class="c2">56</span><span class="c3"><svg class="bi t-ico dn" style="width:11px;height:11px;" viewBox="0 0 16 16" fill="currentColor"><path fill-rule="evenodd" d="M4.646 9.646a.5.5 0 0 1 .708 0L8 12.293l2.646-2.647a.5.5 0 0 1 .708.708l-3 3a.5.5 0 0 1-.708 0l-3-3a.5.5 0 0 1 0-.708z"/><path fill-rule="evenodd" d="M8 2.500a.5.5 0 0 1 .5.5v9a.5.5 0 0 1-1 0V3a.5.5 0 0 1 .5-.5z"/></svg> 20%</span></div><div class="trow" style="top:190.79999999999998px"><a class="c1">javascript.com</a><span class="c2">24</span><span class="c3">-</span></div><div class="trow" style="top:220.7px"><a class="c1">github.com</a><span class="c2">17</span><span class="c3">15%</span></div></section><section class="card botcard" style="left:346.5px"><div class="ic-holder"><svg class="bi " style="width:19.5px;height:19.5px;" viewBox="0 0 16 16" fill="currentColor"><path fill-rule="evenodd" d="M1.920.506a.5.5 0 0 1 .434.140L3 1.293l.646-.647a.5.5 0 0 1 .708 0L5 1.293l.646-.647a.5.5 0 0 1 .708 0L7 1.293l.646-.647a.5.5 0 0 1 .708 0L9 1.293l.646-.647a.5.5 0 0 1 .708 0l.646.647.646-.647a.5.5 0 0 1 .708 0l.646.647.646-.647a.5.5 0 0 1 .801.130l.5 1A.5.5 0 0 1 15 2v12a.5.5 0 0 1-.053.224l-.5 1a.5.5 0 0 1-.800.130L13 14.707l-.646.647a.5.5 0 0 1-.708 0L11 14.707l-.646.647a.5.5 0 0 1-.708 0L9 14.707l-.646.647a.5.5 0 0 1-.708 0L7 14.707l-.646.647a.5.5 0 0 1-.708 0L5 14.707l-.646.647a.5.5 0 0 1-.708 0L3 14.707l-.646.647a.5.5 0 0 1-.801-.130l-.5-1A.5.5 0 0 1 1 14V2a.5.5 0 0 1 .053-.224l.5-1a.5.5 0 0 1 .367-.270zm.217 1.338L2 2.118v11.764l.137.274.510-.510a.5.5 0 0 1 .707 0L4 14.293l.646-.647a.5.5 0 0 1 .708 0l.646.647.646-.647a.5.5 0 0 1 .708 0l.646.647.646-.647a.5.5 0 0 1 .708 0l.646.647.646-.647a.5.5 0 0 1 .708 0l.646.647.646-.647a.5.5 0 0 1 .708 0l.509.509.137-.274V2.118l-.137-.274-.510.510a.5.5 0 0 1-.707 0L12 1.707l-.646.647a.5.5 0 0 1-.708 0L10 1.707l-.646.647a.5.5 0 0 1-.708 0L8 1.707l-.646.647a.5.5 0 0 1-.708 0L6 1.707l-.646.647a.5.5 0 0 1-.708 0L4 1.707l-.646.647a.5.5 0 0 1-.708 0l-.509-.510z"/><path fill-rule="evenodd" d="M3 4.500a.5.5 0 0 1 .5-.5h6a.5.5 0 1 1 0 1h-6a.5.5 0 0 1-.5-.5zm0 2a.5.5 0 0 1 .5-.5h6a.5.5 0 1 1 0 1h-6a.5.5 0 0 1-.5-.5zm0 2a.5.5 0 0 1 .5-.5h6a.5.5 0 1 1 0 1h-6a.5.5 0 0 1-.5-.5zm0 2a.5.5 0 0 1 .5-.5h6a.5.5 0 0 1 0 1h-6a.5.5 0 0 1-.5-.5zm8-6a.5.5 0 0 1 .5-.5h1a.5.5 0 0 1 0 1h-1a.5.5 0 0 1-.5-.5zm0 2a.5.5 0 0 1 .5-.5h1a.5.5 0 0 1 0 1h-1a.5.5 0 0 1-.5-.5zm0 2a.5.5 0 0 1 .5-.5h1a.5.5 0 0 1 0 1h-1a.5.5 0 0 1-.5-.5zm0 2a.5.5 0 0 1 .5-.5h1a.5.5 0 0 1 0 1h-1a.5.5 0 0 1-.5-.5z"/></svg></div><h4 class="bot-title">Invoices</h4><p class="bot-text">Lorem ipsum dolor sit amet, consectetur adipiscing<br>elit. Etiam aliquet eros vel diam semper mollis.</p><a class="btn-sec">Create New</a></section><section class="card botcard" style="left:701.3px"><div class="ic-holder" style="left:13.500px"><svg class="bi " style="width:19.5px;height:19.5px;" viewBox="0 0 16 16" fill="currentColor"><path fill-rule="evenodd" d="M14 1H2a1 1 0 0 0-1 1v12a1 1 0 0 0 1 1h12a1 1 0 0 0 1-1V2a1 1 0 0 0-1-1zM2 0a2 2 0 0 0-2 2v12a2 2 0 0 0 2 2h12a2 2 0 0 0 2-2V2a2 2 0 0 0-2-2H2z"/><path fill-rule="evenodd" d="M6.854 4.646a.5.5 0 0 1 0 .708L4.207 8l2.647 2.646a.5.5 0 0 1-.708.708l-3-3a.5.5 0 0 1 0-.708l3-3a.5.5 0 0 1 .708 0zm2.292 0a.5.5 0 0 0 0 .708L11.793 8l-2.647 2.646a.5.5 0 0 0 .708.708l3-3a.5.5 0 0 0 0-.708l-3-3a.5.5 0 0 0-.708 0z"/></svg></div><h4 class="bot-title">Apps</h4><p class="bot-text">Pellentesque varius, elit vel volutpat sollicitudin,<br>lacus quam efficitur augue</p><a class="btn-sec">Create New</a></section><section class="card botcard" style="left:1056.2px"><div class="ic-holder" style="left:13.500px"><svg class="bi" style="width:19.700px;height:19.700px" viewBox="0 0 16 16" fill="currentColor"><path fill-rule="evenodd" d="M0 1l1-1 3.081 2.200a1 1 0 0 1 .419.815v.070a1 1 0 0 0 .293.708L10.500 9.500l.914-.305a1 1 0 0 1 1.023.242l3.356 3.356a1 1 0 0 1 0 1.414l-1.586 1.586a1 1 0 0 1-1.414 0l-3.356-3.356a1 1 0 0 1-.242-1.023L9.500 10.500 3.793 4.793a1 1 0 0 0-.707-.293h-.071a1 1 0 0 1-.814-.419L0 1zm11.354 9.646a.5.5 0 0 0-.708.708l3 3a.5.5 0 0 0 .708-.708l-3-3z"/><path fill-rule="evenodd" d="M15.898 2.223a3.003 3.003 0 0 1-3.679 3.674L5.878 12.150a3 3 0 1 1-2.027-2.027l6.252-6.341A3 3 0 0 1 13.778.100l-2.142 2.142L12 4l1.757.364 2.141-2.141zm-13.370 9.019L3.001 11l.471.242.529.026.287.445.445.287.026.529L5 13l-.242.471-.026.529-.445.287-.287.445-.529.026L3 15l-.471-.242L2 14.732l-.287-.445L1.268 14l-.026-.529L1 13l.242-.471.026-.529.445-.287.287-.445.529-.026z"/></svg></div><h4 class="bot-title">Tools</h4><p class="bot-text">Sed maximus, libero ac pharetra elementum, turpis<br>nisi molestie neque, et tincidunt velit turpis non<br>enim.</p><a class="btn-sec">Create New</a></section><footer class="foot">Designed with <svg class="heart" viewBox="0 0 512 512"><path fill="#fb866a" d="M462.300 62.600C407.500 15.900 326 24.300 275.700 76.200L256 96.500l-19.700-20.300C186.100 24.300 104.500 15.900 49.700 62.600c-62.800 53.600-66.100 149.800-9.900 207.900l193.500 199.800c12.500 12.900 32.800 12.900 45.300 0l193.500-199.800c56.300-58.100 53-154.300-9.800-207.900z"/></svg> by <a>Xiaoying Riley</a> for developers</footer>
</main>
</body>
</html>
